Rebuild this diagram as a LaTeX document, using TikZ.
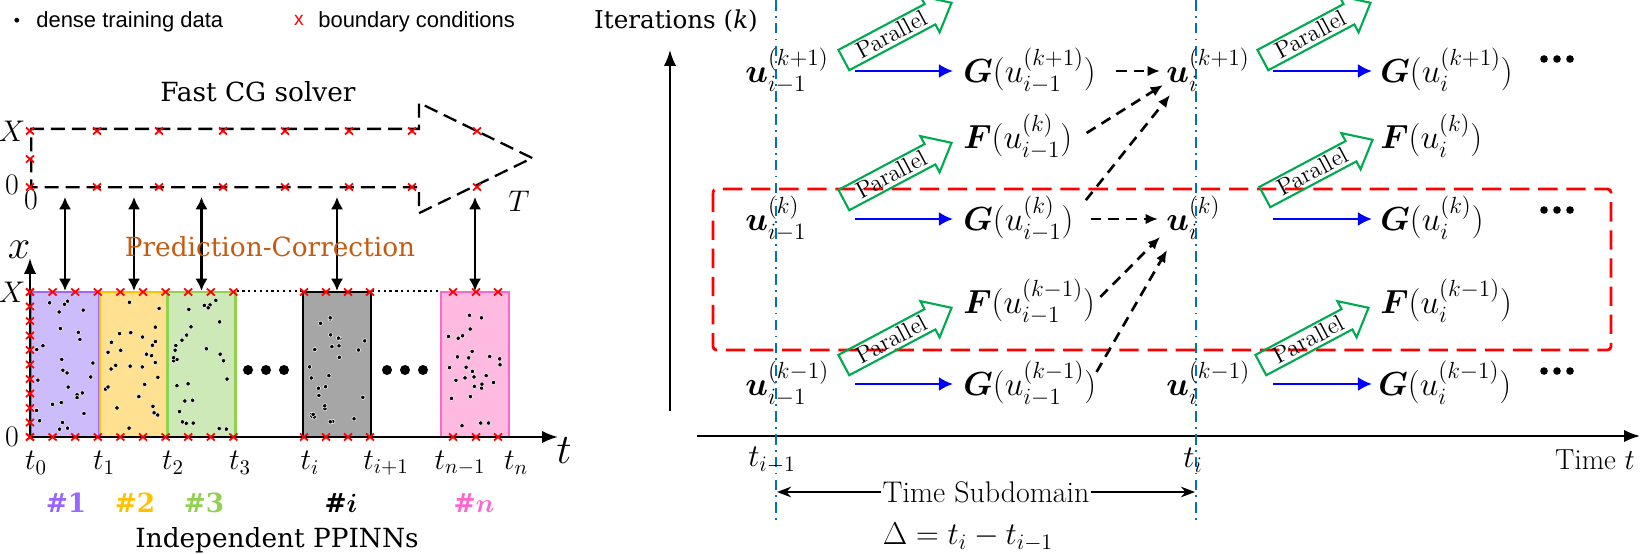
\RequirePackage{fix-cm}
\documentclass[tikz,border=0pt]{standalone}
\usepackage{amsmath}
\usepackage{bm}
\usepackage{fontspec}
\setsansfont{Liberation Sans}
\newfontfamily\lblserif{DejaVu Serif}
\usetikzlibrary{shapes, arrows.meta, positioning, calc}

\definecolor{purpline}{RGB}{153,102,255}
\definecolor{purpfill}{RGB}{204,188,252}
\definecolor{yellline}{RGB}{255,192,0}
\definecolor{yellfill}{RGB}{255,225,145}
\definecolor{greenline}{RGB}{146,208,80}
\definecolor{greenfill}{RGB}{206,233,184}
\definecolor{grayfill}{RGB}{166,166,166}
\definecolor{pinkline}{RGB}{255,102,204}
\definecolor{pinkfill}{RGB}{255,186,226}
\definecolor{corrorange}{RGB}{197,90,17}
\definecolor{tblue}{RGB}{0,112,192}
\definecolor{pargreen}{RGB}{0,170,80}

\newlength{\pxu}
\setlength{\pxu}{0.02cm}

\tikzset{bcx/.pic={\draw[red, line width=1pt] (-4,-3.5) -- (4,3.5) (-4,3.5) -- (4,-3.5);}}

\begin{document}
\begin{tikzpicture}[x=0.02cm, y=-0.02cm,
        title/.style={font=\lblserif\fontsize{15}{18}\selectfont, inner sep=0pt},
        mlab/.style={font=\fontsize{17}{20}\selectfont, inner sep=0pt},
        legend/.style={font=\sffamily\fontsize{12.5}{14}\selectfont, inner sep=0pt, anchor=west},
        hashlab/.style={font=\lblserif\bfseries\fontsize{15}{18}\selectfont, inner sep=0pt},
        box/.style={draw, line width=1.2pt, minimum width=68\pxu, minimum height=145\pxu, inner sep=0pt},
        cgarrow/.style={shape=single arrow, draw, dash pattern=on 8pt off 4pt, line width=1.3pt,
            minimum height=501\pxu, text height=56\pxu, text depth=0pt, inner sep=0pt,
            single arrow head extend=26\pxu, single arrow tip angle=52, anchor=tail},
        pc/.style={{Latex[length=7pt,width=7pt]}-{Latex[length=7pt,width=7pt]}, line width=1.5pt},
        axis/.style={-{Latex[length=9pt,width=7pt]}, line width=1.3pt},
        term/.style={anchor=west, inner sep=0pt, text height=21pt, text depth=8pt, font=\fontsize{19}{23}\selectfont},
        garrow/.style={-{Latex[length=8pt,width=8pt]}, blue, line width=1.5pt},
        dep/.style={-{Latex[length=7pt,width=6pt]}, line width=1.5pt, dash pattern=on 6pt off 4pt},
        par/.style={shape=single arrow, draw=pargreen, line width=1.2pt, rotate=28,
            font=\fontsize{13.5}{15}\selectfont, inner xsep=1pt, inner ysep=1.2pt,
            text height=9pt, text depth=0.5pt, minimum height=122\pxu,
            single arrow head extend=9\pxu, single arrow tip angle=80, anchor=tip},
        tline/.style={tblue, line width=1.2pt, dash pattern=on 6pt off 3pt on 1pt off 3pt},
        redbox/.style={red, line width=1.6pt, dash pattern=on 11pt off 5pt, rounded corners=2pt},
        span/.style={{Stealth[length=8pt]}-{Stealth[length=8pt]}, line width=1.5pt}
    ]
        \path[use as bounding box] (0,0) rectangle (1642,554);
        \clip (0,0) rectangle (1642,554);

        % Legend
        \node[font=\sffamily\fontsize{10}{12}\selectfont, inner sep=0pt] (legdot) at (17,22) {\textbullet};
        \node[legend] (legdense) at (36,22) {dense training data};
        \node[font=\sffamily\fontsize{11}{12}\selectfont, text=red, inner sep=0pt] (legx) at (299,20) {x};
        \node[legend] (legbc) at (318,22) {boundary conditions};

        % Coarse solver over the whole domain
        \node[title] (cgtitle) at (258,92) {Fast CG solver};
        \node[cgarrow] (cg) at (30,158) {};
        \coordinate (cgfoot) at (30,197);
        \node[mlab] (cgX) at (12,131) {$X$};
        \node[mlab] (cgzero) at (12,185) {$0$};
        \node[mlab] (cgstart) at (31,200) {$0$};
        \node[mlab] (cgT) at (519,201) {$T$};
        \foreach \px in {30,97,159,223,285,349,412,477} {
            \pic at (\px,131) {bcx};
            \pic at (\px,187) {bcx};
        }
        \pic at (30,159) {bcx};

        % Subdomains
        \node[box, fill=purpfill, draw=purpline] (box1) at (65,364.5) {};
        \node[box, fill=yellfill, draw=yellline] (box2) at (134,364.5) {};
        \node[box, fill=greenfill, draw=greenline] (box3) at (201.5,364.5) {};
        \node[box, fill=grayfill, draw=black] (box4) at (337,364.5) {};
        \node[box, fill=pinkfill, draw=pinkline] (box5) at (475,364.5) {};
        \draw[dotted, line width=1.3pt] (box3.north east) -- (box4.north west);
        \draw[dotted, line width=1.3pt] (box4.north east) -- (box5.north west);

        % Training points
        \pgfmathsetseed{23}
        \foreach \bl/\br in {31/99, 100/168, 168/235, 304/370, 441/509} {
            \foreach \n in {1,...,28} {
                \pgfmathsetmacro{\dx}{\bl+5+rnd*(\br-\bl-10)}
                \pgfmathsetmacro{\dy}{300+rnd*130}
                \fill[draw=white, line width=0.3pt] (\dx,\dy) circle (2.2);
            }
        }
        \foreach \cx in {266,405}
            \foreach \dd in {-18,0,18}
                \fill (\cx+\dd,370) circle (5);

        % Axes of the subdomains
        \coordinate (lo) at (30,437);
        \coordinate (lxtip) at (30,258);
        \coordinate (lttip) at (558,437);
        \draw[axis] (lo) -- (lxtip);
        \draw[axis] (lo) -- (lttip);
        \node[font=\fontsize{23}{25}\selectfont, inner sep=0pt] (xlab) at (19,250) {$x$};
        \node[font=\fontsize{24}{26}\selectfont, inner sep=0pt] (tlab) at (564,451) {$t$};
        \node[mlab] (bxX) at (12,292) {$X$};
        \node[mlab] (bxzero) at (12,437) {$0$};

        % Boundary conditions
        \foreach \k in {0,...,10}
            \pic at (30,292+14.5*\k) {bcx};
        \foreach \px in {30,52.6,75.2,97.8,120.4,143,165.6,188.2,210.8,233.4,304,326,348,370,453,476,498} {
            \pic at (\px,292) {bcx};
            \pic at (\px,437) {bcx};
        }

        % Prediction-correction exchange
        \draw[pc] (cgfoot -| box1.north) -- (box1.north);
        \draw[pc] (cgfoot -| box2.north) -- (box2.north);
        \draw[pc] (cgfoot -| box3.north) -- (box3.north);
        \draw[pc] (cgfoot -| box4.north) -- (box4.north);
        \draw[pc] (cgfoot -| box5.north) -- (box5.north);
        \node[title, text=corrorange] (predcorr) at (270,247) {Prediction-Correction};

        % Time labels
        \foreach \lab/\px in {t_0/36, t_1/104, t_2/173, t_3/240, t_i/310, t_{i+1}/386, t_{n-1}/460, t_n/516}
            \node[mlab] (tick\px) at (\px,463) {$\lab$};
        \node[hashlab, text=purpline] (hash1) at (66,503) {\#1};
        \node[hashlab, text=yellline] (hash2) at (135,503) {\#2};
        \node[hashlab, text=greenline] (hash3) at (204,503) {\#3};
        \node[hashlab] (hashi) at (341,503) {\#$\bm{i}$};
        \node[hashlab, text=pinkline] (hashn) at (474,503) {\#$\bm{n}$};
        \node[title] (ppinns) at (277,540) {Independent PPINNs};

        % Parareal axes
        \coordinate (itbot) at (670,411);
        \coordinate (ittop) at (670,50);
        \coordinate (tml) at (697,436);
        \coordinate (tmr) at (1640,436);
        \draw[axis, line width=1.1pt] (itbot) -- (ittop);
        \draw[axis, line width=1.1pt] (tml) -- (tmr);
        \node[font=\lblserif\fontsize{14}{17}\selectfont, inner sep=0pt] (iterlab) at (676,21) {Iterations (\textit{k})};
        \node[font=\fontsize{16.5}{19}\selectfont, inner sep=0pt] (timelab) at (1595,460) {Time $t$};
        \draw[tline] (776,0) -- (776,520);
        \draw[tline] (1196,0) -- (1196,520);
        \node[font=\fontsize{18}{21}\selectfont, inner sep=0pt] (tim1) at (772,460) {$t_{i-1}$};
        \node[font=\fontsize{18}{21}\selectfont, inner sep=0pt] (ti) at (1193,460) {$t_i$};

        % Current iteration
        \draw[redbox] (713,189) rectangle (1611,350);

        % Terms of the iteration
        \node[term] (ukp1l) at (745,71) {$\bm{u}_{i-1}^{(k+1)}$};
        \node[term] (gkp1l) at (963,71) {$\bm{G}(u_{i-1}^{(k+1)})$};
        \node[term] (fkl) at (963,137) {$\bm{F}(u_{i-1}^{(k)})$};
        \node[term] (ukl) at (745,219) {$\bm{u}_{i-1}^{(k)}$};
        \node[term] (gkl) at (963,219) {$\bm{G}(u_{i-1}^{(k)})$};
        \node[term] (fkm1l) at (963,302) {$\bm{F}(u_{i-1}^{(k-1)})$};
        \node[term] (ukm1l) at (745,384) {$\bm{u}_{i-1}^{(k-1)}$};
        \node[term] (gkm1l) at (963,384) {$\bm{G}(u_{i-1}^{(k-1)})$};
        \node[term] (ukp1r) at (1166,71) {$\bm{u}_{i}^{(k+1)}$};
        \node[term] (gkp1r) at (1380,71) {$\bm{G}(u_{i}^{(k+1)})$};
        \node[term] (fkr) at (1380,137) {$\bm{F}(u_{i}^{(k)})$};
        \node[term] (ukr) at (1166,219) {$\bm{u}_{i}^{(k)}$};
        \node[term] (gkr) at (1380,219) {$\bm{G}(u_{i}^{(k)})$};
        \node[term] (fkm1r) at (1380,302) {$\bm{F}(u_{i}^{(k-1)})$};
        \node[term] (ukm1r) at (1166,384) {$\bm{u}_{i}^{(k-1)}$};
        \node[term] (gkm1r) at (1378,384) {$\bm{G}(u_{i}^{(k-1)})$};
        \foreach \cy in {59,210,371}
            \foreach \dd in {-13,0,13}
                \fill (1557+\dd,\cy) circle (3.8);

        % Coarse propagation
        \coordinate (gstartl) at (855,0);
        \coordinate (gstartr) at (1273,0);
        \draw[garrow] (ukp1l.east -| gstartl) -- ([xshift=-10\pxu]gkp1l.west);
        \draw[garrow] (ukl.east -| gstartl) -- ([xshift=-10\pxu]gkl.west);
        \draw[garrow] (ukm1l.east -| gstartl) -- ([xshift=-10\pxu]gkm1l.west);
        \draw[garrow] (ukp1r.east -| gstartr) -- ([xshift=-8\pxu]gkp1r.west);
        \draw[garrow] (ukr.east -| gstartr) -- ([xshift=-8\pxu]gkr.west);
        \draw[garrow] (ukm1r.east -| gstartr) -- ([xshift=-6\pxu]gkm1r.west);

        % Fine propagation in parallel
        \coordinate (fkp1l) at (963,-3);
        \coordinate (fkp1r) at (1380,-3);
        \node[par] (par1) at ($(fkp1l)+(-10,5)$) {Parallel};
        \node[par] (par2) at ($(fkl.west)+(-10,5)$) {Parallel};
        \node[par] (par3) at ($(fkm1l.west)+(-10,5)$) {Parallel};
        \node[par] (par4) at ($(fkp1r)+(-8,5)$) {Parallel};
        \node[par] (par5) at ($(fkr.west)+(-6,2)$) {Parallel};
        \node[par] (par6) at ($(fkm1r.west)+(-10,5)$) {Parallel};

        % Correction
        \draw[dep] ([xshift=20\pxu]gkp1l.east) -- ([xshift=-6\pxu]ukp1r.west);
        \draw[dep] ($(fkl.east)+(14,-4)$) -- ($(ukp1r.west)+(-3,14)$);
        \draw[dep] ($(gkl.north east)+(12,7)$) -- ($(ukp1r.west)+(4,24)$);
        \draw[dep] ([xshift=17\pxu]gkl.east) -- ([xshift=-8\pxu]ukr.west);
        \draw[dep] ($(fkm1l.east)+(5,-5)$) -- ($(ukr.west)+(-6,18)$);
        \draw[dep] ($(gkm1l.east)+(0,-12)$) -- ($(ukr.west)+(1,31)$);

        % Subdomain length
        \draw[span] (777,492) -- node[fill=white, inner sep=1pt, font=\fontsize{17}{20}\selectfont] (tsub) {Time Subdomain} (1195,492);
        \node[font=\fontsize{18}{21}\selectfont, inner sep=0pt] (delta) at (968,537) {$\Delta = t_i - t_{i-1}$};

    \end{tikzpicture}
\end{document}
